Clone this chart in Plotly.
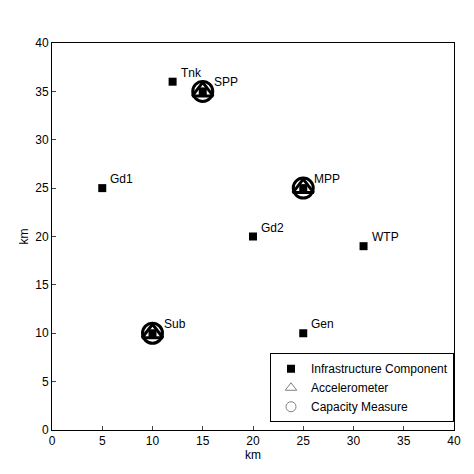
import plotly.graph_objects as go

names = ["Tnk", "SPP", "Gd1", "MPP", "Gd2", "WTP", "Sub", "Gen"]
xs = [12, 15, 5, 25, 20, 31, 10, 25]
ys = [36, 35, 25, 25, 20, 19, 10, 10]
sensor_x = [15, 25, 10]
sensor_y = [35, 25, 10]

fig = go.Figure()
fig.add_trace(go.Scatter(x=sensor_x, y=sensor_y, mode="markers", showlegend=False,
                         marker=dict(symbol="circle-open", size=20, color="black",
                                     line=dict(width=3))))
fig.add_trace(go.Scatter(x=sensor_x, y=sensor_y, mode="markers", showlegend=False,
                         marker=dict(symbol="triangle-up-open", size=18, color="black",
                                     line=dict(width=3))))
fig.add_trace(go.Scatter(x=xs, y=ys, mode="markers", showlegend=False,
                         marker=dict(symbol="square", size=8, color="black")))
for n, x, y in zip(names, xs, ys):
    fig.add_annotation(x=x, y=y, text=n, showarrow=False, xanchor="left", yanchor="bottom",
                       xshift=6 if n not in ("SPP", "MPP", "Sub") else 9, yshift=0,
                       font=dict(size=12, color="black"))

fig.add_trace(go.Scatter(x=[None], y=[None], mode="markers", name="Infrastructure Component",
                         marker=dict(symbol="square", size=8, color="black")))
fig.add_trace(go.Scatter(x=[None], y=[None], mode="markers", name="Accelerometer",
                         marker=dict(symbol="triangle-up-open", size=10, color="gray")))
fig.add_trace(go.Scatter(x=[None], y=[None], mode="markers", name="Capacity Measure",
                         marker=dict(symbol="circle-open", size=10, color="gray")))

ax = dict(range=[0, 40], dtick=5, showgrid=False, zeroline=False, showline=True,
          mirror=True, linecolor="black", ticks="inside", ticklen=4, automargin=False,
          tickfont=dict(size=12, color="black"), title_font=dict(size=12, color="black"))
fig.update_xaxes(title_text="km", title_standoff=2, **ax)
fig.update_yaxes(title_text="km", title_standoff=4, **ax)
fig.update_layout(
    width=474, height=474, plot_bgcolor="white", paper_bgcolor="white",
    font=dict(family="Liberation Sans, Arial", color="black"),
    margin=dict(l=44, r=28, t=35, b=52),
    legend=dict(x=1.0, y=0.02, xanchor="right", yanchor="bottom", bgcolor="white",
                bordercolor="black", borderwidth=1, font=dict(size=12), tracegroupgap=0),
)
fig.write_html("out.html")
